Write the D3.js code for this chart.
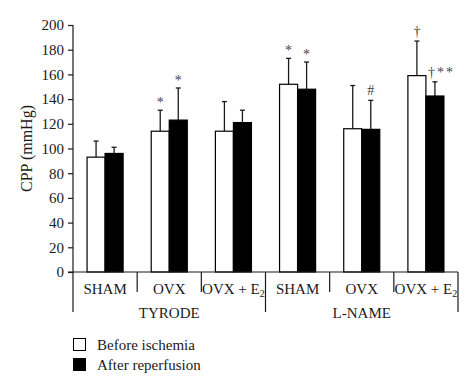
<!DOCTYPE html>
<html>
<head>
  <script src="https://d3js.org/d3.v7.min.js"></script>
  <style>
    body { margin: 0; background: #fff; }
    text { font-family: "Liberation Serif", "DejaVu Serif", serif; fill: #1a1a1a; }
  </style>
</head>
<body>
<script>
// groups: treatment x condition
var treatments = ["TYRODE", "L-NAME"];
var conditions = ["SHAM", "OVX", "OVX + E"];
var series = ["Before ischemia", "After reperfusion"];
var yTicks = [0, 20, 40, 60, 80, 100, 120, 140, 160, 180, 200];

// CPP (mmHg), means and upper SD, in group order
var before = [93, 114, 114, 152, 116, 159];
var beforeErr = [13, 17, 24, 21, 35, 28];
var after = [96, 123, 121, 148, 115.5, 142.5];
var afterErr = [5, 26, 10, 22, 23.5, 11.5];
var beforeMarks = ["", "*", "", "*", "", "\u2020"];
var afterMarks = ["", "*", "", "*", "#", "\u2020**"];

var width = 474, height = 391;
var plotLeft = 73, plotRight = 458, plotTop = 25, plotBottom = 272;

var svg = d3.select("body").append("svg")
  .attr("width", width)
  .attr("height", height);

var groups = d3.range(treatments.length * conditions.length);

var x0 = d3.scaleBand().domain(groups).range([plotLeft, plotRight]).padding(0);
var x1 = d3.scaleBand().domain([0, 1]).range([0, x0.bandwidth()])
  .paddingInner(0).paddingOuter(0.78);
var y = d3.scaleLinear().domain([0, 200]).range([plotBottom, plotTop]);

// y axis
var yAxis = svg.append("g")
  .attr("transform", "translate(" + plotLeft + ",0)")
  .call(d3.axisLeft(y).tickValues(yTicks).tickSize(5).tickPadding(4));
yAxis.select(".domain").attr("stroke", "#1a1a1a").attr("stroke-width", 1.2)
  .attr("d", "M0," + y(200) + "V" + y(0));
yAxis.selectAll(".tick line").attr("stroke", "#1a1a1a").attr("stroke-width", 1.2);
yAxis.selectAll(".tick text").style("font-size", "15px")
  .style("font-family", "Liberation Serif").attr("fill", "#1a1a1a");

svg.append("text")
  .attr("transform", "translate(26," + ((plotTop + plotBottom) / 2) + ") rotate(-90)")
  .attr("text-anchor", "middle")
  .attr("dy", "0.35em")
  .style("font-size", "16px")
  .text("CPP (mmHg)");

// bars
var rows = groups.map(function (g) {
  return [
    { g: g, s: 0, v: before[g], e: beforeErr[g], m: beforeMarks[g] },
    { g: g, s: 1, v: after[g], e: afterErr[g], m: afterMarks[g] }
  ];
});
var flat = [].concat.apply([], rows);

// error bars (upper only)
var err = svg.append("g").attr("stroke", "#1a1a1a").attr("stroke-width", 1.3);
flat.forEach(function (d) {
  var cx = x0(d.g) + x1(d.s) + x1.bandwidth() / 2;
  err.append("line").attr("x1", cx).attr("x2", cx)
    .attr("y1", y(d.v)).attr("y2", y(d.v + d.e));
  err.append("line").attr("x1", cx - 2.5).attr("x2", cx + 2.5)
    .attr("y1", y(d.v + d.e)).attr("y2", y(d.v + d.e));
});

svg.append("g").selectAll("rect")
  .data(flat)
  .join("rect")
  .attr("x", function (d) { return x0(d.g) + x1(d.s); })
  .attr("y", function (d) { return y(d.v); })
  .attr("width", x1.bandwidth())
  .attr("height", function (d) { return y(0) - y(d.v); })
  .attr("fill", function (d) { return d.s === 0 ? "#fff" : "#000"; })
  .attr("stroke", "#000")
  .attr("stroke-width", 1.2);

// significance marks
svg.append("g").selectAll("text")
  .data(flat.filter(function (d) { return d.m; }))
  .join("text")
  .attr("x", function (d) {
    var cx = x0(d.g) + x1(d.s) + x1.bandwidth() / 2;
    return d.m.length > 1 ? cx - 7 : cx;
  })
  .attr("y", function (d) { return y(d.v + d.e) - (d.m === "*" ? 3 : 5); })
  .attr("text-anchor", function (d) { return d.m.length > 1 ? "start" : "middle"; })
  .style("font-size", "14px")
  .style("fill", "#444")
  .style("letter-spacing", function (d) { return d.m.length > 1 ? "2px" : null; })
  .text(function (d) { return d.m; });

// x axis baseline and category separators
var ax = svg.append("g").attr("stroke", "#1a1a1a").attr("stroke-width", 1.2);
ax.append("line").attr("x1", 68).attr("x2", plotRight).attr("y1", plotBottom).attr("y2", plotBottom);
groups.concat([groups.length]).forEach(function (g) {
  var xx = g < groups.length ? x0(g) : plotRight;
  var long = g % conditions.length === 0;
  ax.append("line").attr("x1", xx).attr("x2", xx)
    .attr("y1", plotBottom).attr("y2", long ? 312 : 292);
});

// condition labels
groups.forEach(function (g) {
  var c = conditions[g % conditions.length];
  var t = svg.append("text")
    .attr("x", x0(g) + x0.bandwidth() / 2)
    .attr("y", 294)
    .attr("text-anchor", "middle")
    .style("font-size", "15px")
    .text(c);
  if (c === "OVX + E") {
    t.append("tspan").attr("dy", 3).style("font-size", "10px").text("2");
  }
});

// treatment labels
treatments.forEach(function (t, i) {
  var a = x0(i * conditions.length);
  var b = i === treatments.length - 1 ? plotRight : x0((i + 1) * conditions.length);
  svg.append("text")
    .attr("x", (a + b) / 2)
    .attr("y", 318)
    .attr("text-anchor", "middle")
    .style("font-size", "15px")
    .text(t);
});

// legend
var legend = svg.append("g");
series.forEach(function (s, i) {
  legend.append("rect")
    .attr("x", 73.5).attr("y", 338.5 + i * 20)
    .attr("width", 12).attr("height", 12)
    .attr("fill", i === 0 ? "#fff" : "#000")
    .attr("stroke", "#000").attr("stroke-width", 1);
  legend.append("text")
    .attr("x", 97).attr("y", 350 + i * 20)
    .style("font-size", "15px")
    .text(s);
});
</script>
</body>
</html>
